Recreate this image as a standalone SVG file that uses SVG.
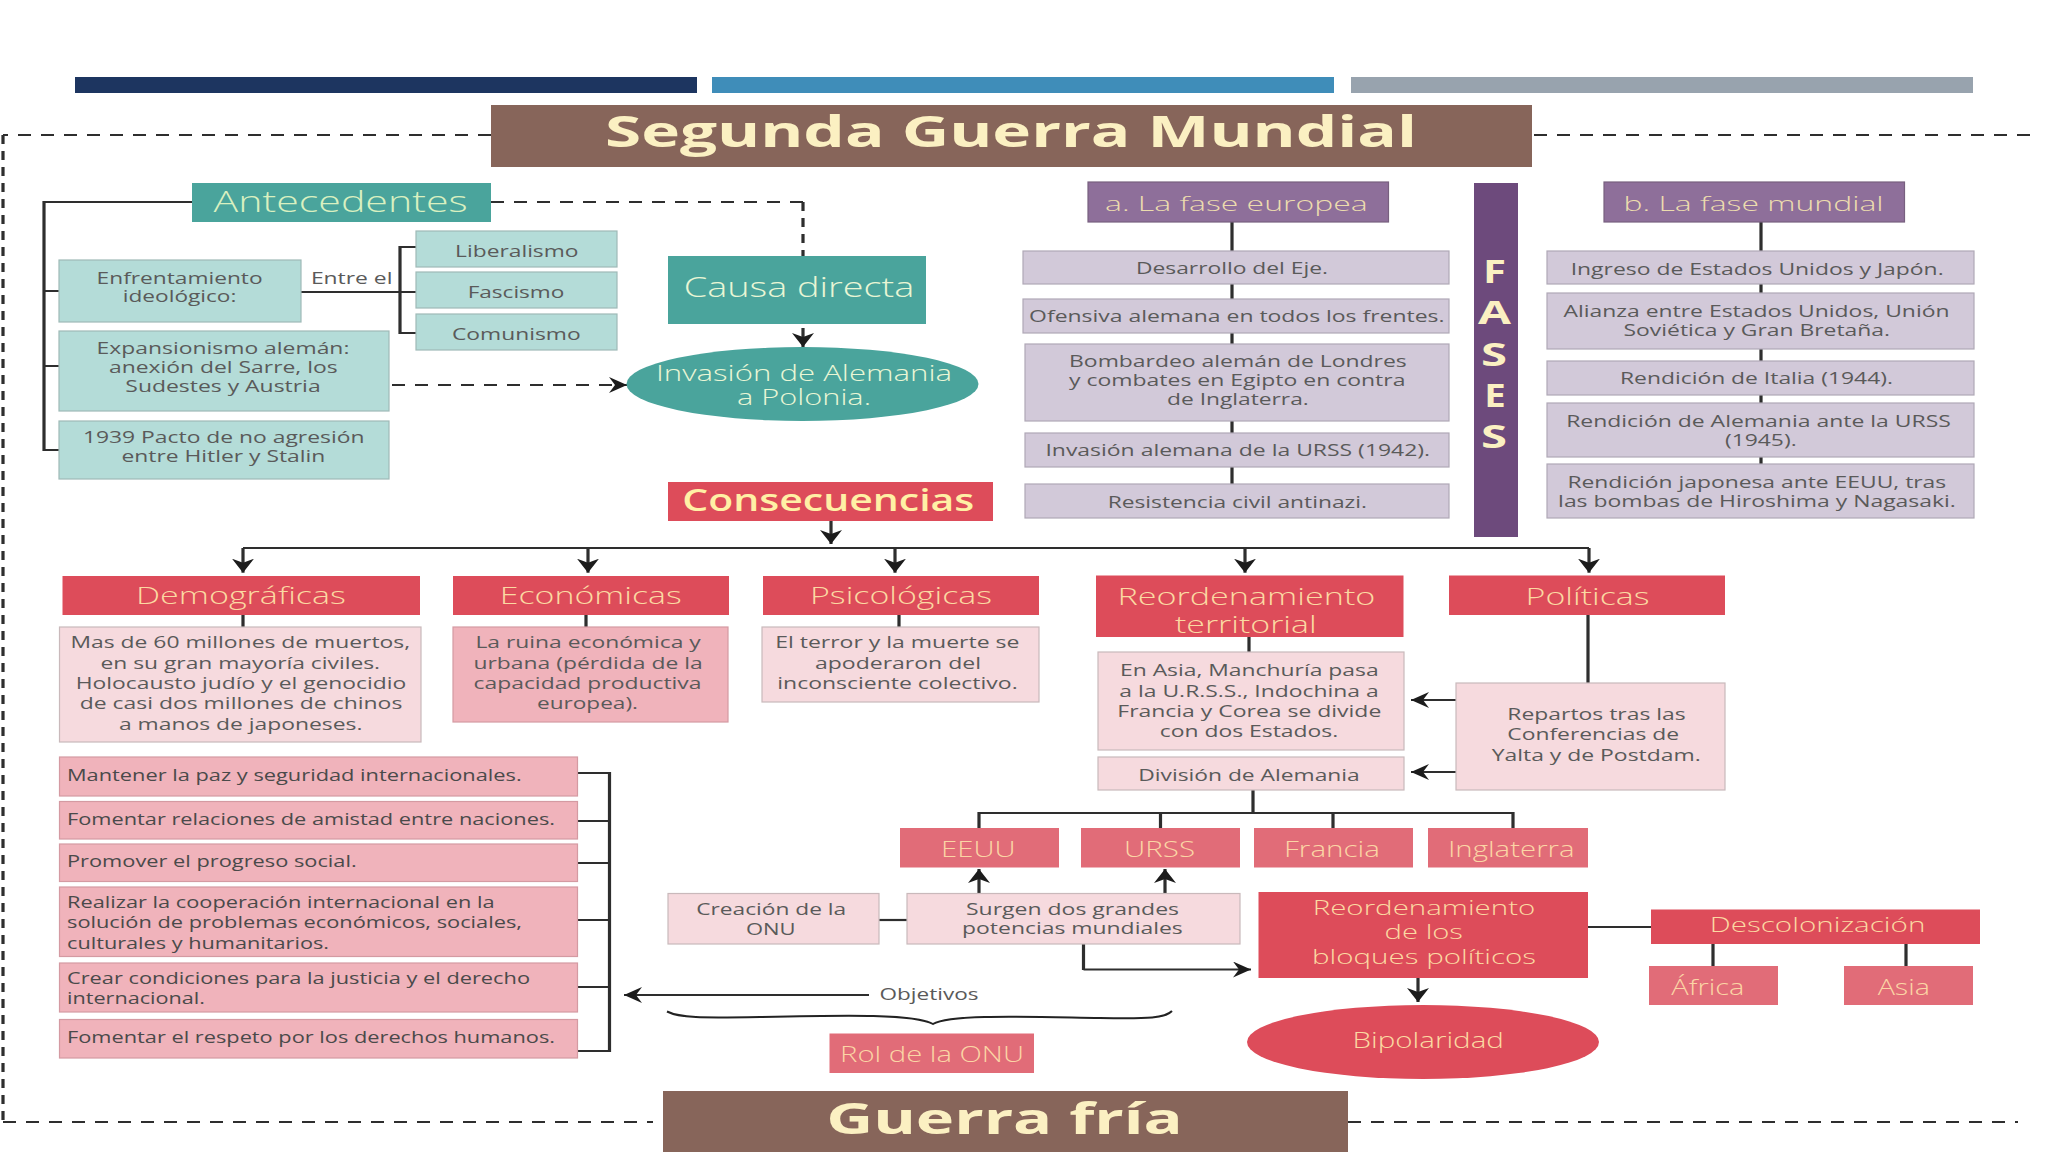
<svg xmlns="http://www.w3.org/2000/svg" width="2048" height="1152" viewBox="0 0 2048 1152">
<defs>
<marker id="mv" viewBox="0 0 14 22" refX="14" refY="11" markerWidth="14" markerHeight="22" markerUnits="userSpaceOnUse" orient="auto"><path d="M0,0 L14,11 L0,22 L4,11 Z" fill="#1c1c1c"/></marker>
<marker id="mh" viewBox="0 0 18 16" refX="18" refY="8" markerWidth="18" markerHeight="16" markerUnits="userSpaceOnUse" orient="auto"><path d="M0,0 L18,8 L0,16 L6,8 Z" fill="#1c1c1c"/></marker>
</defs>
<style>
text{font-family:"Open Sans","Noto Sans","Liberation Sans",sans-serif;text-anchor:middle}
.s{font-size:17px;fill:#5a5a5a}
.d{font-size:17px;fill:#4a4a4a;text-anchor:start}
.h{font-size:24px;font-weight:300;fill:#fbd9a2}
.m{font-size:22px;font-weight:300;fill:#fbd5a5}
.t{font-size:43px;font-weight:700;fill:#fbf0c2}
.ch{fill:none;stroke:#2e2e2e;stroke-width:2.2}
.cv{fill:none;stroke:#2e2e2e;stroke-width:3.2}
.av{marker-end:url(#mv)}
.ah{marker-end:url(#mh)}
.dh{stroke-dasharray:13 10}
.dv{stroke-dasharray:9 7}
.teal{fill:#4aa49c}.pteal{fill:#b4dcd8;stroke:#9fb9b7;stroke-width:1.2}
.purp{fill:#8e6f9a;stroke:#77607f;stroke-width:1.2}.ppurp{fill:#d2c9d9;stroke:#b0a8b6;stroke-width:1.2}
.red{fill:#dd4c5a}.mid{fill:#e16c78}.pale{fill:#f6dade;stroke:#c9b9bb;stroke-width:1.2}.pink{fill:#f0b3bb;stroke:#d49aa2;stroke-width:1.2}
.brown{fill:#87655a}
</style>
<g id="bars"><rect x="75" y="77" width="622" height="16" fill="#1d3560"/><rect x="712" y="77" width="622" height="16" fill="#3f8db9"/><rect x="1351" y="77" width="622" height="16" fill="#98a3ae"/></g>
<g id="connectors">
<path class="ch dh" d="M491,135 H3"/>
<path class="cv dv" d="M3,135 V1122"/>
<path class="ch dh" d="M3,1122 H653"/>
<path class="ch dh" d="M1534,135 H2040"/>
<path class="ch dh" d="M1348,1122 H2018"/>
<path class="ch" d="M192,202 H44 M44,291 H59 M44,366 H59 M44,450 H59"/><path class="cv" d="M44,201 V451"/>
<path class="ch" d="M301,292 H416 M416,247 H400 M400,333 H416"/><path class="cv" d="M400,246 V334"/>
<path class="ch dh" d="M491,202 H803"/><path class="cv dv" d="M803,202 V256"/>
<path class="cv av" d="M803,328 V347"/>
<path class="ch dh ah" d="M392,385 H627"/>
<path class="cv av" d="M831,521 V544"/>
<path class="ch" d="M243,548 H1589"/>
<path class="cv av" d="M243,548 V572.700"/><path class="cv av" d="M588,548 V572.700"/><path class="cv av" d="M895,548 V572.700"/><path class="cv av" d="M1245,548 V572.700"/><path class="cv av" d="M1589,548 V572.700"/>
<path class="cv" d="M243,615 V627 M586,615 V627 M899,615 V627 M1249,637 V652 M1588,615 V683"/>
<path class="ch ah" d="M1456,700 H1411"/><path class="ch ah" d="M1456,772 H1411"/>
<path class="cv" d="M1253,790 V813 M979,828 V812 M1513,828 V812 M1160.500,813 V828 M1333,813 V828"/><path class="ch" d="M979,813 H1513"/>
<path class="cv av" d="M979,893 V869"/><path class="cv av" d="M1165,893 V869"/>
<path class="ch" d="M879,920 H907"/>
<path class="cv" d="M1083.500,944 V970"/><path class="ch ah" d="M1083.500,969.500 H1251"/>
<path class="cv av" d="M1418,978 V1002"/>
<path class="ch" d="M1588,927 H1651"/><path class="cv" d="M1713,944 V966 M1906,944 V966"/>
<path class="ch" d="M577,773 H609.500 M577,821 H609.500 M577,863 H609.500 M577,920 H609.500 M577,987 H609.500 M577,1051 H609.500"/><path class="cv" d="M609.500,772 V1052"/>
<path class="ch ah" d="M869,995 H624"/>
<path d="M667,1011.500 C680,1018 700,1018 760,1017 C850,1015 915,1014 933,1024 C950,1014 1030,1017 1100,1018 C1150,1019 1165,1018 1172,1011" fill="none" stroke="#222" stroke-width="2"/>
<path class="cv" d="M1232,222 V484 M1761,222 V464"/>
</g>
<g id="titulo"><rect class="brown" x="491" y="105" width="1041" height="62"/><text class="t" x="1011" y="147" textLength="812" lengthAdjust="spacingAndGlyphs">Segunda Guerra Mundial</text></g>
<g id="guerra-fria"><rect class="brown" x="663" y="1091" width="685" height="61"/><text class="t" x="1004.500" y="1134" textLength="356.700" lengthAdjust="spacingAndGlyphs">Guerra fría</text></g>
<g id="antecedentes"><rect class="teal" x="192" y="183" width="299" height="39"/><text x="340.600" y="212" font-size="29" font-weight="300" fill="#d9f0c0" textLength="254" lengthAdjust="spacingAndGlyphs">Antecedentes</text></g>
<g id="enfrentamiento"><rect class="pteal" x="59" y="260" width="242" height="62"/><text class="s" x="179.600" y="283.500" textLength="166" lengthAdjust="spacingAndGlyphs">Enfrentamiento</text><text class="s" x="179.600" y="302" textLength="113.600" lengthAdjust="spacingAndGlyphs">ideológico:</text></g>
<g id="entre-el"><text class="s" x="351.700" y="283.500" textLength="81.600" lengthAdjust="spacingAndGlyphs">Entre el</text></g>
<g id="liberalismo"><rect class="pteal" x="416" y="231" width="201" height="36"/><text class="s" x="516.800" y="257" textLength="123.400" lengthAdjust="spacingAndGlyphs">Liberalismo</text></g>
<g id="fascismo"><rect class="pteal" x="416" y="272" width="201" height="36"/><text class="s" x="516" y="297.700" textLength="96.700" lengthAdjust="spacingAndGlyphs">Fascismo</text></g>
<g id="comunismo"><rect class="pteal" x="416" y="314" width="201" height="36"/><text class="s" x="516.300" y="340" textLength="128.700" lengthAdjust="spacingAndGlyphs">Comunismo</text></g>
<g id="expansionismo"><rect class="pteal" x="59" y="331" width="330" height="80"/><text class="s" x="223" y="354.300" textLength="252.800" lengthAdjust="spacingAndGlyphs">Expansionismo alemán:</text><text class="s" x="223.300" y="372.700" textLength="228.600" lengthAdjust="spacingAndGlyphs">anexión del Sarre, los</text><text class="s" x="223" y="392" textLength="195.300" lengthAdjust="spacingAndGlyphs">Sudestes y Austria</text></g>
<g id="pacto"><rect class="pteal" x="59" y="421" width="330" height="58"/><text class="s" x="223.700" y="443.300" textLength="281.500" lengthAdjust="spacingAndGlyphs">1939 Pacto de no agresión</text><text class="s" x="223.400" y="462.300" textLength="203.800" lengthAdjust="spacingAndGlyphs">entre Hitler y Stalin</text></g>
<g id="causa-directa"><rect class="teal" x="668" y="256" width="258" height="68"/><text x="799" y="297" font-size="27" font-weight="300" fill="#e9f6d5" textLength="230.600" lengthAdjust="spacingAndGlyphs">Causa directa</text></g>
<g id="invasion"><ellipse class="teal" cx="802.500" cy="384" rx="176" ry="37"/><text x="804" y="380.700" font-size="21.500" font-weight="300" fill="#e9f6d5" textLength="296" lengthAdjust="spacingAndGlyphs">Invasión de Alemania</text><text x="804" y="405" font-size="21.500" font-weight="300" fill="#e9f6d5" textLength="134" lengthAdjust="spacingAndGlyphs">a Polonia.</text></g>
<g id="fase-europea"><rect class="purp" x="1088" y="182" width="300.500" height="40"/><text x="1236.300" y="211" font-size="21" font-weight="300" fill="#ecdcae" textLength="262.600" lengthAdjust="spacingAndGlyphs">a. La fase europea</text></g>
<g id="fase-mundial"><rect class="purp" x="1604" y="182" width="300.500" height="40"/><text x="1753.600" y="211" font-size="21" font-weight="300" fill="#ecdcae" textLength="260" lengthAdjust="spacingAndGlyphs">b. La fase mundial</text></g>
<g id="fases"><rect x="1474" y="183" width="44" height="354" fill="#6d4a7c"/>
<g font-size="33" font-weight="700" fill="#fbf0c2"><text x="1494.500" y="282.700" textLength="23" lengthAdjust="spacingAndGlyphs">F</text><text x="1494.500" y="324" textLength="33" lengthAdjust="spacingAndGlyphs">A</text><text x="1494" y="365.700" textLength="26" lengthAdjust="spacingAndGlyphs">S</text><text x="1495" y="406.700" textLength="21.500" lengthAdjust="spacingAndGlyphs">E</text><text x="1494" y="448" textLength="26" lengthAdjust="spacingAndGlyphs">S</text></g></g>
<g id="desarrollo"><rect class="ppurp" x="1023" y="251" width="426" height="33"/><text class="s" x="1232" y="274" textLength="192" lengthAdjust="spacingAndGlyphs">Desarrollo del Eje.</text></g>
<g id="ofensiva"><rect class="ppurp" x="1023" y="299" width="426" height="34"/><text class="s" x="1236.800" y="322.300" textLength="415.400" lengthAdjust="spacingAndGlyphs">Ofensiva alemana en todos los frentes.</text></g>
<g id="bombardeo"><rect class="ppurp" x="1025" y="344" width="424" height="77"/><text class="s" x="1237.900" y="366.700" textLength="337.700" lengthAdjust="spacingAndGlyphs">Bombardeo alemán de Londres</text><text class="s" x="1237.200" y="386" textLength="336.400" lengthAdjust="spacingAndGlyphs">y combates en Egipto en contra</text><text class="s" x="1237.900" y="405" textLength="141.700" lengthAdjust="spacingAndGlyphs">de Inglaterra.</text></g>
<g id="invasion-urss"><rect class="ppurp" x="1025" y="433" width="424" height="34"/><text class="s" x="1237.800" y="456.300" textLength="384.700" lengthAdjust="spacingAndGlyphs">Invasión alemana de la URSS (1942).</text></g>
<g id="resistencia"><rect class="ppurp" x="1025" y="484" width="424" height="34"/><text class="s" x="1237.300" y="508" textLength="259.300" lengthAdjust="spacingAndGlyphs">Resistencia civil antinazi.</text></g>
<g id="ingreso"><rect class="ppurp" x="1547" y="251" width="427" height="33"/><text class="s" x="1757.200" y="274.700" textLength="373" lengthAdjust="spacingAndGlyphs">Ingreso de Estados Unidos y Japón.</text></g>
<g id="alianza"><rect class="ppurp" x="1547" y="293" width="427" height="56"/><text class="s" x="1756.500" y="316.700" textLength="386" lengthAdjust="spacingAndGlyphs">Alianza entre Estados Unidos, Unión</text><text class="s" x="1756.800" y="336" textLength="266.500" lengthAdjust="spacingAndGlyphs">Soviética y Gran Bretaña.</text></g>
<g id="italia"><rect class="ppurp" x="1547" y="361" width="427" height="34"/><text class="s" x="1756.500" y="384.300" textLength="273" lengthAdjust="spacingAndGlyphs">Rendición de Italia (1944).</text></g>
<g id="alemania"><rect class="ppurp" x="1547" y="403" width="427" height="54"/><text class="s" x="1758.500" y="426.700" textLength="384.700" lengthAdjust="spacingAndGlyphs">Rendición de Alemania ante la URSS</text><text class="s" x="1760.800" y="445.700" textLength="71.800" lengthAdjust="spacingAndGlyphs">(1945).</text></g>
<g id="japonesa"><rect class="ppurp" x="1547" y="464" width="427" height="54"/><text class="s" x="1756.800" y="487.700" textLength="378.800" lengthAdjust="spacingAndGlyphs">Rendición japonesa ante EEUU, tras</text><text class="s" x="1757" y="506.700" textLength="397.800" lengthAdjust="spacingAndGlyphs">las bombas de Hiroshima y Nagasaki.</text></g>
<g id="consecuencias"><rect class="red" x="668" y="482" width="325" height="39"/><text x="828.300" y="511" font-size="30" font-weight="600" fill="#fff0a5" textLength="292" lengthAdjust="spacingAndGlyphs">Consecuencias</text></g>
<g id="demograficas"><rect class="red" x="62.500" y="576" width="357.500" height="39"/><text class="h" x="241" y="604" textLength="210" lengthAdjust="spacingAndGlyphs">Demográficas</text></g>
<g id="economicas"><rect class="red" x="453" y="576" width="276" height="39"/><text class="h" x="590.800" y="604" textLength="182" lengthAdjust="spacingAndGlyphs">Económicas</text></g>
<g id="psicologicas"><rect class="red" x="763" y="576" width="276" height="39"/><text class="h" x="901" y="604" textLength="182" lengthAdjust="spacingAndGlyphs">Psicológicas</text></g>
<g id="reordenamiento-territorial"><rect class="red" x="1096" y="575.500" width="307.500" height="61.500"/><text class="h" x="1246.400" y="604.500" textLength="258" lengthAdjust="spacingAndGlyphs">Reordenamiento</text><text class="h" x="1245.800" y="632.800" textLength="141.700" lengthAdjust="spacingAndGlyphs">territorial</text></g>
<g id="politicas"><rect class="red" x="1449" y="575.500" width="276" height="39.500"/><text class="h" x="1587.600" y="604.500" textLength="124" lengthAdjust="spacingAndGlyphs">Políticas</text></g>
<g id="muertos"><rect class="pale" x="59.500" y="627" width="361.500" height="115"/><text class="s" x="240.300" y="648" textLength="339.600" lengthAdjust="spacingAndGlyphs">Mas de 60 millones de muertos,</text><text class="s" x="240.300" y="668.600" textLength="279.600" lengthAdjust="spacingAndGlyphs">en su gran mayoría civiles.</text><text class="s" x="241" y="689" textLength="330.500" lengthAdjust="spacingAndGlyphs">Holocausto judío y el genocidio</text><text class="s" x="241" y="709" textLength="322.700" lengthAdjust="spacingAndGlyphs">de casi dos millones de chinos</text><text class="s" x="240.700" y="729.500" textLength="243.600" lengthAdjust="spacingAndGlyphs">a manos de japoneses.</text></g>
<g id="ruina"><rect class="pink" x="453" y="627" width="275" height="95"/><text class="s" x="588.100" y="648" textLength="225.300" lengthAdjust="spacingAndGlyphs">La ruina económica y</text><text class="s" x="588.100" y="668.600" textLength="229.300" lengthAdjust="spacingAndGlyphs">urbana (pérdida de la</text><text class="s" x="587.500" y="689" textLength="228" lengthAdjust="spacingAndGlyphs">capacidad productiva</text><text class="s" x="587.500" y="709" textLength="101" lengthAdjust="spacingAndGlyphs">europea).</text></g>
<g id="terror"><rect class="pale" x="762" y="627" width="277" height="75"/><text class="s" x="897.300" y="648" textLength="244.300" lengthAdjust="spacingAndGlyphs">El terror y la muerte se</text><text class="s" x="898" y="668.600" textLength="166" lengthAdjust="spacingAndGlyphs">apoderaron del</text><text class="s" x="897.500" y="689" textLength="240.400" lengthAdjust="spacingAndGlyphs">inconsciente colectivo.</text></g>
<g id="asia-manchuria"><rect class="pale" x="1098" y="652" width="306" height="98"/><text class="s" x="1249.300" y="676" textLength="258.600" lengthAdjust="spacingAndGlyphs">En Asia, Manchuría pasa</text><text class="s" x="1249" y="696.600" textLength="259.300" lengthAdjust="spacingAndGlyphs">a la U.R.S.S., Indochina a</text><text class="s" x="1249.300" y="717" textLength="264" lengthAdjust="spacingAndGlyphs">Francia y Corea se divide</text><text class="s" x="1249" y="737.400" textLength="178.300" lengthAdjust="spacingAndGlyphs">con dos Estados.</text></g>
<g id="division"><rect class="pale" x="1098" y="757" width="306" height="33"/><text class="s" x="1249" y="781" textLength="221.400" lengthAdjust="spacingAndGlyphs">División de Alemania</text></g>
<g id="repartos"><rect class="pale" x="1456" y="683" width="269" height="107"/><text class="s" x="1596.500" y="720" textLength="178.300" lengthAdjust="spacingAndGlyphs">Repartos tras las</text><text class="s" x="1593.200" y="740.400" textLength="171.800" lengthAdjust="spacingAndGlyphs">Conferencias de</text><text class="s" x="1596.200" y="760.800" textLength="209" lengthAdjust="spacingAndGlyphs">Yalta y de Postdam.</text></g>
<g id="eeuu"><rect class="mid" x="900" y="828" width="159" height="39.500"/><text class="m" x="978.300" y="857" textLength="74.500" lengthAdjust="spacingAndGlyphs">EEUU</text></g>
<g id="urss"><rect class="mid" x="1081" y="828" width="159" height="39.500"/><text class="m" x="1159.500" y="857" textLength="71" lengthAdjust="spacingAndGlyphs">URSS</text></g>
<g id="francia"><rect class="mid" x="1254" y="828" width="159" height="39.500"/><text class="m" x="1332" y="857" textLength="96" lengthAdjust="spacingAndGlyphs">Francia</text></g>
<g id="inglaterra"><rect class="mid" x="1428" y="828" width="160" height="39.500"/><text class="m" x="1511.300" y="857" textLength="126.700" lengthAdjust="spacingAndGlyphs">Inglaterra</text></g>
<g id="creacion-onu"><rect class="pale" x="668" y="893.500" width="211" height="50.500"/><text class="s" x="771.200" y="914.600" textLength="150" lengthAdjust="spacingAndGlyphs">Creación de la</text><text class="s" x="770.800" y="935" textLength="49.600" lengthAdjust="spacingAndGlyphs">ONU</text></g>
<g id="surgen"><rect class="pale" x="907" y="893.500" width="333" height="50.500"/><text class="s" x="1072.500" y="914.700" textLength="213" lengthAdjust="spacingAndGlyphs">Surgen dos grandes</text><text class="s" x="1072.400" y="934.300" textLength="220.700" lengthAdjust="spacingAndGlyphs">potencias mundiales</text></g>
<g id="bloques"><rect class="red" x="1258.500" y="892" width="329.500" height="86"/><text class="h" x="1424" y="914.700" style="font-size:21px" textLength="222.700" lengthAdjust="spacingAndGlyphs">Reordenamiento</text><text class="h" x="1423.800" y="939" style="font-size:21px" textLength="78.400" lengthAdjust="spacingAndGlyphs">de los</text><text class="h" x="1424" y="963.800" style="font-size:21px" textLength="224" lengthAdjust="spacingAndGlyphs">bloques políticos</text></g>
<g id="descolonizacion"><rect class="red" x="1651" y="909.500" width="329" height="34.500"/><text class="h" x="1817.600" y="932" style="font-size:21px" textLength="215.600" lengthAdjust="spacingAndGlyphs">Descolonización</text></g>
<g id="africa"><rect class="mid" x="1649" y="966" width="129" height="39"/><text class="m" x="1707.800" y="994.700" textLength="73" lengthAdjust="spacingAndGlyphs">África</text></g>
<g id="asia"><rect class="mid" x="1844" y="966" width="129" height="39"/><text class="m" x="1903.800" y="994.700" textLength="52.300" lengthAdjust="spacingAndGlyphs">Asia</text></g>
<g id="bipolaridad"><ellipse class="red" cx="1423" cy="1042" rx="176" ry="37"/><text class="h" x="1428.200" y="1048" style="font-size:22px" textLength="151.500" lengthAdjust="spacingAndGlyphs">Bipolaridad</text></g>
<g id="obj1"><rect class="pink" x="59.500" y="757" width="518" height="39"/><text class="d" x="67" y="781" textLength="454.700" lengthAdjust="spacingAndGlyphs">Mantener la paz y seguridad internacionales.</text></g>
<g id="obj2"><rect class="pink" x="59.500" y="801.500" width="518" height="37.500"/><text class="d" x="67" y="825" textLength="488" lengthAdjust="spacingAndGlyphs">Fomentar relaciones de amistad entre naciones.</text></g>
<g id="obj3"><rect class="pink" x="59.500" y="844" width="518" height="37.500"/><text class="d" x="67" y="867" textLength="289.700" lengthAdjust="spacingAndGlyphs">Promover el progreso social.</text></g>
<g id="obj4"><rect class="pink" x="59.500" y="887" width="518" height="69.500"/><text class="d" x="67" y="908" textLength="427.500" lengthAdjust="spacingAndGlyphs">Realizar la cooperación internacional en la</text><text class="d" x="67" y="928" textLength="455" lengthAdjust="spacingAndGlyphs">solución de problemas económicos, sociales,</text><text class="d" x="67" y="948.500" textLength="262" lengthAdjust="spacingAndGlyphs">culturales y humanitarios.</text></g>
<g id="obj5"><rect class="pink" x="59.500" y="963" width="518" height="49"/><text class="d" x="67" y="983.600" textLength="463" lengthAdjust="spacingAndGlyphs">Crear condiciones para la justicia y el derecho</text><text class="d" x="67" y="1004" textLength="138" lengthAdjust="spacingAndGlyphs">internacional.</text></g>
<g id="obj6"><rect class="pink" x="59.500" y="1019.500" width="518" height="38.500"/><text class="d" x="67" y="1043" textLength="488" lengthAdjust="spacingAndGlyphs">Fomentar el respeto por los derechos humanos.</text></g>
<g id="objetivos"><text class="s" x="929" y="999.500" textLength="99" lengthAdjust="spacingAndGlyphs">Objetivos</text></g>
<g id="rol-onu"><rect class="mid" x="829.500" y="1033.500" width="204.500" height="39.500"/><text class="m" x="932" y="1061.700" textLength="184" lengthAdjust="spacingAndGlyphs">Rol de la ONU</text></g>
</svg>
